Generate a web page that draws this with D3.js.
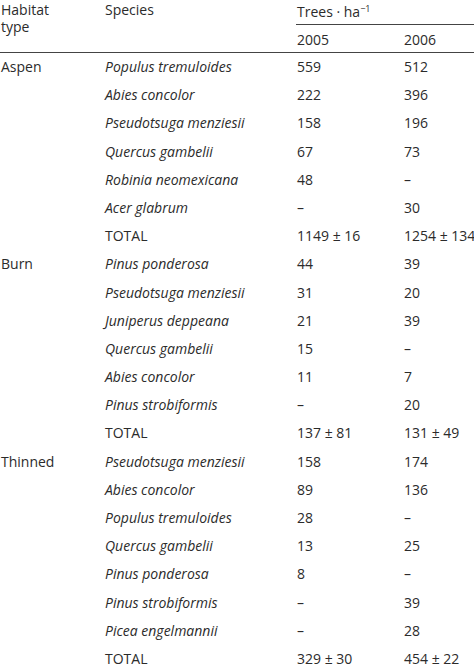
<!DOCTYPE html>
<html><head><meta charset="utf-8">
<script src="https://cdn.jsdelivr.net/npm/d3@7"></script>
<style>body{margin:0;background:#fff}text{font-family:"Open Sans",sans-serif;fill:#2b2b2b;font-size:14px}</style>
</head><body><svg id="t"></svg>
<script>
// table contents
const habitats = ['Aspen', 'Burn', 'Thinned'];
const species = [
  ['Populus tremuloides', 'Abies concolor', 'Pseudotsuga menziesii', 'Quercus gambelii', 'Robinia neomexicana', 'Acer glabrum', 'TOTAL'],
  ['Pinus ponderosa', 'Pseudotsuga menziesii', 'Juniperus deppeana', 'Quercus gambelii', 'Abies concolor', 'Pinus strobiformis', 'TOTAL'],
  ['Pseudotsuga menziesii', 'Abies concolor', 'Populus tremuloides', 'Quercus gambelii', 'Pinus ponderosa', 'Pinus strobiformis', 'Picea engelmannii', 'TOTAL']
];
const y2005 = [
  ['559', '222', '158', '67', '48', '–', '1149 ± 16'],
  ['44', '31', '21', '15', '11', '–', '137 ± 81'],
  ['158', '89', '28', '13', '8', '–', '–', '329 ± 30']
];
const y2006 = [
  ['512', '396', '196', '73', '–', '30', '1254 ± 134'],
  ['39', '20', '39', '–', '7', '20', '131 ± 49'],
  ['174', '136', '–', '25', '–', '39', '28', '454 ± 22']
];
const years = ['2005', '2006'];

const width = 474, height = 669;
const svg = d3.select('#t').attr('width', width).attr('height', height);

const rows = [];
habitats.forEach((h, i) => species[i].forEach((s, j) => rows.push({
  habitat: j === 0 ? h : '', species: s, a: y2005[i][j], b: y2006[i][j]
})));

const y = d3.scaleBand().domain(d3.range(rows.length)).range([53, 673]);
const colX = {habitat: 1, species: 105, a: 297, b: 404};

// header
svg.append('text').attr('x', colX.habitat).attr('y', 15).text('Habitat');
svg.append('text').attr('x', colX.habitat).attr('y', 32).text('type');
svg.append('text').attr('x', colX.species).attr('y', 15).text('Species');
const th = svg.append('text').attr('x', colX.a).attr('y', 17).text('Trees · ha');
th.append('tspan').attr('dy', -5).style('font-size', '9px').text('−1');
svg.append('line').attr('x1', 296).attr('x2', width).attr('y1', 24.5).attr('y2', 24.5).attr('stroke', '#444');
years.forEach((yr, i) => svg.append('text').attr('x', i ? colX.b : colX.a).attr('y', 45).text(yr));
svg.append('line').attr('x1', 0).attr('x2', width).attr('y1', 52.5).attr('y2', 52.5).attr('stroke', '#444');

const g = svg.selectAll('g.row').data(rows).join('g')
  .attr('transform', (d, i) => `translate(0,${y(i) + y.bandwidth() / 2 + 5})`);
g.append('text').attr('x', colX.habitat).text(d => d.habitat);
g.append('text').attr('x', colX.species).style('font-style', d => d.species === 'TOTAL' ? 'normal' : 'italic').text(d => d.species);
g.append('text').attr('x', colX.a).text(d => d.a);
g.append('text').attr('x', colX.b).text(d => d.b);
</script></body></html>
